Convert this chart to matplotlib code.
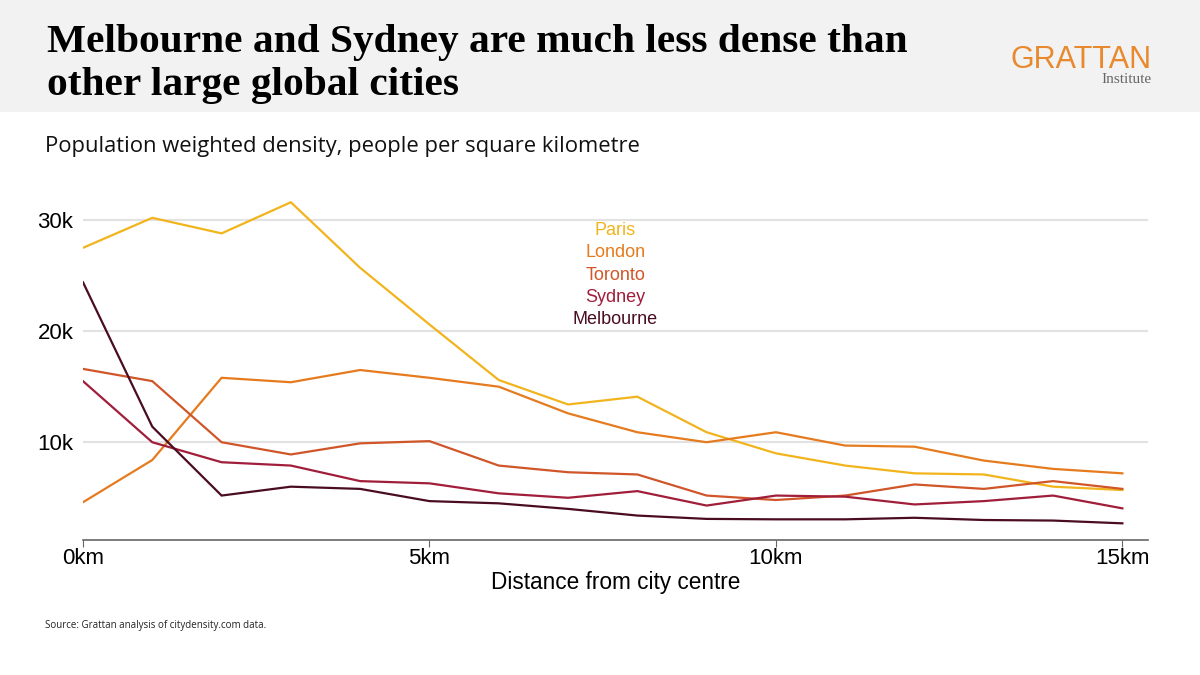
import matplotlib.pyplot as plt
from matplotlib.patches import Rectangle
from matplotlib.ticker import FuncFormatter

# distance from city centre, km
distance = list(range(16))

paris = [27.5, 30.2, 28.8, 31.6, 25.7, 20.6, 15.6, 13.4, 14.1, 10.9, 9.0, 7.9, 7.2, 7.1, 6.0, 5.7]
london = [4.6, 8.4, 15.8, 15.4, 16.5, 15.8, 15.0, 12.6, 10.9, 10.0, 10.9, 9.7, 9.6, 8.35, 7.6, 7.2]
toronto = [16.6, 15.5, 10.0, 8.9, 9.9, 10.1, 7.9, 7.3, 7.1, 5.2, 4.8, 5.2, 6.2, 5.8, 6.5, 5.8]
sydney = [15.5, 10.0, 8.2, 7.9, 6.5, 6.3, 5.4, 5.0, 5.6, 4.3, 5.2, 5.1, 4.4, 4.7, 5.2, 4.05]
melbourne = [24.4, 11.4, 5.2, 6.0, 5.8, 4.7, 4.5, 4.0, 3.4, 3.1, 3.06, 3.06, 3.2, 3.0, 2.95, 2.7]

cities = ["Paris", "London", "Toronto", "Sydney", "Melbourne"]
series = [paris, london, toronto, sydney, melbourne]
colours = ["#F2B41C", "#E57B1E", "#D0562A", "#A01E3A", "#4A0C22"]

x_ticks = [0, 5, 10, 15]
y_ticks = [10, 20, 30]

W, H = 1200, 675

fig = plt.figure(figsize=(12, 6.75), dpi=100)
fig.patch.set_facecolor("white")

# grey header band
fig.patches.append(Rectangle((0, 1 - 112 / H), 1, 112 / H, transform=fig.transFigure,
                             facecolor="#F2F2F2", edgecolor="none", zorder=0))

title_lines = ["Melbourne and Sydney are much less dense than", "other large global cities"]
for line, baseline in zip(title_lines, [52, 95]):
    fig.text(47 / W, 1 - baseline / H, line, fontsize=29.8, fontweight="bold",
             family="Liberation Serif", va="baseline", color="black")

fig.text(1152 / W, 1 - 68 / H, "GRATTAN", fontsize=22, color="#E8892E",
         family="Liberation Sans", ha="right", va="baseline")
fig.text(1152 / W, 1 - 83 / H, "Institute", fontsize=11, color="#666666",
         family="Liberation Serif", ha="right", va="baseline")

fig.text(45 / W, 1 - 152 / H, "Population weighted density, people per square kilometre",
         fontsize=15.8, family="Open Sans", color="#111111", va="baseline")
fig.text(45 / W, 1 - 628 / H, "Source: Grattan analysis of citydensity.com data.",
         fontsize=7, family="Open Sans", color="#222222", va="baseline")

ax = fig.add_axes([83 / W, 1 - 540 / H, (1148 - 83) / W, (540 - 175.6) / H])
for values, colour in zip(series, colours):
    ax.plot(distance, values, color=colour, linewidth=1.6, solid_joinstyle="miter")

ax.set_xlim(0, 15.37)
ax.set_ylim(1.2, 34)
ax.set_xticks(x_ticks)
ax.xaxis.set_major_formatter(FuncFormatter(lambda v, _: f"{v:.0f}km"))
ax.set_yticks(y_ticks)
ax.yaxis.set_major_formatter(FuncFormatter(lambda v, _: f"{v:.0f}k"))
ax.grid(axis="y", color="#E2E2E2", linewidth=1.5)
ax.set_axisbelow(True)
for side in ["top", "right", "left"]:
    ax.spines[side].set_visible(False)
ax.spines["bottom"].set_color("#666666")
ax.spines["bottom"].set_linewidth(1.2)
ax.tick_params(axis="x", length=5, color="#666666", labelsize=16, pad=1)
ax.tick_params(axis="y", length=0, labelsize=16, pad=7)
for label in ax.get_xticklabels() + ax.get_yticklabels():
    label.set_family("Liberation Sans")
ax.set_xlabel("Distance from city centre", fontsize=16.3, family="Liberation Sans", labelpad=1)

# direct legend
for i, (city, colour) in enumerate(zip(cities, colours)):
    ax.text(0.5, 0.848 - i * 0.0604, city, transform=ax.transAxes, ha="center", va="center",
            fontsize=13, family="Liberation Sans", color=colour)

fig.savefig("out.png", dpi=100)
